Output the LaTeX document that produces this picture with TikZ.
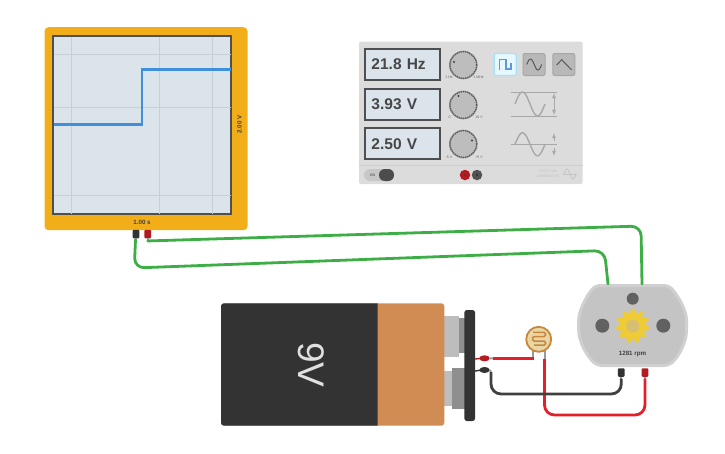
\documentclass[tikz,border=0pt]{standalone}
\usepackage{fontspec}
\usetikzlibrary{shapes.geometric}
\setmainfont{Liberation Sans}
\definecolor{scope}{HTML}{F2AE18}
\definecolor{lcd}{HTML}{DAE4EA}
\definecolor{lcdframe}{HTML}{4D4F50}
\definecolor{grid}{HTML}{C6D0D6}
\definecolor{trace}{HTML}{3F90DB}
\definecolor{panel}{HTML}{DCDCDC}
\definecolor{panelline}{HTML}{CFCFCF}
\definecolor{knob}{HTML}{BDBDBD}
\definecolor{darkpart}{HTML}{333333}
\definecolor{copper}{HTML}{D08C52}
\definecolor{stud}{HTML}{BDBDBD}
\definecolor{studdark}{HTML}{8F8F8F}
\definecolor{wiregreen}{HTML}{3DAE45}
\definecolor{wirered}{HTML}{E3202A}
\definecolor{wireblack}{HTML}{404040}
\definecolor{termred}{HTML}{B31B20}
\definecolor{motorbody}{HTML}{C4C4C4}
\definecolor{motorrim}{HTML}{D0D0D0}
\definecolor{gear}{HTML}{EFCB36}
\definecolor{gearhub}{HTML}{D6BE72}
\definecolor{ldr}{HTML}{C9873C}
\definecolor{ldrin}{HTML}{E8D6A4}
\definecolor{iconline}{HTML}{A8A8A8}
\definecolor{faint}{HTML}{C4C4C4}
\tikzset{
  wire/.style={line width=2.8pt,rounded corners=10pt,line cap=round},
  greenwire/.style={wire,draw=wiregreen},
  redwire/.style={wire,draw=wirered},
  blackwire/.style={wire,draw=wireblack},
  lead/.style={line width=2pt,draw=gray!80},
  readout/.style={draw=lcdframe,fill=lcd,line width=2.4pt,minimum width=75pt,minimum height=31pt,inner sep=0pt,font=\bfseries\fontsize{15.5}{17}\selectfont,text=darkpart!90,align=left,text width=62.5pt},
  knobc/.style={circle,fill=knob,draw=black!45,line width=1.1pt,minimum size=27.5pt,inner sep=0pt},
  knobdot/.style={circle,fill=black!75,inner sep=0pt,minimum size=2.4pt},
  mini/.style={font=\fontsize{3.6}{4}\selectfont,text=black!60,inner sep=0pt},
  wavebtn/.style={draw=black!35,fill=black!28,rounded corners=2pt,line width=1pt,minimum width=22pt,minimum height=22pt,inner sep=0pt},
  hole/.style={circle,fill=black!62,inner sep=0pt},
  plug/.style={rounded corners=1pt,inner sep=0pt,minimum width=6.8pt,minimum height=8.5pt},
}
\begin{document}
\begin{tikzpicture}[x=1pt,y=-1pt]
\useasboundingbox (0,0) rectangle (725,453);
% oscilloscope
\node[fill=scope,rounded corners=4pt,minimum width=203pt,minimum height=203pt,inner sep=0pt] (scopebody) at (146,128.7) {};
\node[fill=lcd,draw=lcdframe,line width=2.4pt,minimum width=178pt,minimum height=178pt,inner sep=0pt] (screen) at (142,125) {};
\draw[grid,line width=.8pt] (71.7,36.5)--(71.7,213.5) (159.3,36.5)--(159.3,213.5) (212.3,36.5)--(212.3,213.5)
  (53.5,54.3)--(230.5,54.3) (53.5,107.7)--(230.5,107.7) (53.5,195)--(230.5,195);
\draw[trace,line width=2.6pt] (53.5,124.7)--(142,124.7)--(142,69.7)--(230.5,69.7);
\node[font=\bfseries\fontsize{6.2}{7}\selectfont,text=black!75,inner sep=0pt] (timelabel) at (142,222) {1.00 s};
\node[font=\bfseries\fontsize{6.2}{7}\selectfont,text=black!75,inner sep=0pt,rotate=90] (voltlabel) at (239.5,124.5) {2.00 V};
\node[plug,fill=darkpart] (scopeblack) at (136,234) {};
\node[plug,fill=termred] (scopered) at (147.7,234) {};
\draw[lead] (scopeblack.south)--++(0,2) (scopered.south)--++(0,2);
% function generator
\node[fill=panel,rounded corners=2pt,minimum width=223.5pt,minimum height=142.5pt,inner sep=0pt] (fg) at (470.8,112.8) {};
\draw[panelline,line width=.8pt] (359,165)--(582.5,165);
\node[readout] (freq) at (402.7,64.5) {21.8 Hz};
\node[readout] (amp) at (402.7,104.5) {3.93 V};
\node[readout] (offs) at (402.7,143.7) {2.50 V};
\node[knobc] (k1) at (463.3,65) {};
\node[knobc] (k2) at (463.3,105) {};
\node[knobc] (k3) at (463.3,144) {};
\foreach \k in {k1,k2,k3}
  \draw[black!65,line width=1.2pt,densely dotted] (\k) circle (13.2);
\node[knobdot] at (454,62) {};
\node[knobdot] at (458.5,96) {};
\node[knobdot] at (472,140.5) {};
\node[mini] at (449,77.5) {1 Hz};
\node[mini] at (478.5,77.5) {1 MHz};
\node[mini] at (449.5,117.5) {0};
\node[mini] at (479,117.5) {10 V};
\node[mini] at (449,157) {-5 V};
\node[mini] at (479,157) {+5 V};
\node[draw=cyan!35,fill=white!90!cyan,rounded corners=2pt,line width=1.2pt,minimum width=22pt,minimum height=22pt,inner sep=0pt] (bsq) at (505.3,64.5) {};
\draw[cyan!55!blue!65,line width=1.2pt] (499.5,70)--(499.5,59.5)--(506,59.5)--(506,69)--(511,69)--(511,63);
\node[wavebtn] (bsin) at (534,64.5) {};
\draw[black!65,line width=1pt] plot[domain=0:360,samples=40] ({526.7+\x/24},{64.5-5.5*sin(\x)});
\node[wavebtn] (btri) at (563.8,64.5) {};
\draw[black!65,line width=1pt] (556.7,65)--(561.7,59.7)--(571.7,70);
% amplitude icon
\draw[iconline,line width=.8pt] (510.7,92.3)--(557.3,92.3) (510.7,116)--(557.3,116);
\draw[iconline,line width=1.4pt] plot[domain=0:360,samples=40] ({515+\x/12},{104-12*sin(\x)});
\draw[iconline,line width=.8pt,<->,>=latex] (554,93)--(554,115);
% offset icon
\draw[iconline,line width=.8pt] (510.7,144.3)--(557.3,144.3);
\draw[iconline,line width=1.4pt] plot[domain=0:360,samples=40] ({515+\x/12},{144.3-11.5*sin(\x)});
\draw[iconline,line width=.8pt,->,>=latex] (554,141)--(554,133);
\draw[iconline,line width=.8pt,->,>=latex] (554,148)--(554,156);
% switch and terminals
\node[fill=black!22,rounded corners=6pt,minimum width=30pt,minimum height=12pt,inner sep=0pt] (sw) at (379,175) {};
\node[fill=black!70,rounded corners=5.8pt,minimum width=15pt,minimum height=12pt,inner sep=0pt] (swknob) at (386.5,175) {};
\node[mini,font=\bfseries\fontsize{3.6}{4}\selectfont] at (372.5,175) {ON};
\node[circle,fill=termred,minimum size=10.5pt,inner sep=0pt] (fgred) at (465,175) {};
\node[circle,fill=black!68,minimum size=10.5pt,inner sep=0pt] (fgblack) at (477,175) {};
\node[circle,fill=black!75,minimum size=2pt,inner sep=0pt] at (465,175) {};
\node[circle,fill=black!85,minimum size=2pt,inner sep=0pt] at (477,175) {};
\node[font=\fontsize{3.6}{4.6}\selectfont,text=faint,align=center,inner sep=0pt] at (548,174) {FUNCTION\\GENERATOR};
\draw[faint,line width=.8pt] (563,174)--(577,174);
\draw[faint,line width=.8pt] plot[domain=0:360,samples=30] ({564+\x/30},{174-5*sin(\x)});
% battery
\fill[stud] (444,315.7) rectangle (459,356.7);
\fill[studdark] (459,318) rectangle (465,353);
\fill[stud] (444,371) rectangle (452,406);
\fill[studdark] (452,368) rectangle (465,409);
\fill[copper,rounded corners=3pt] (221,303.3) rectangle (444.3,425.7);
\begin{scope}
  \clip (215,295) rectangle (377.7,430);
  \fill[darkpart,rounded corners=3pt] (221,303.3) rectangle (444.3,425.7);
\end{scope}
\node[font=\fontsize{37}{38}\selectfont,text=black!12,rotate=-90,inner sep=0pt] (ninev) at (311,365) {9V};
\node[fill=darkpart,rounded corners=2.5pt,minimum width=10.7pt,minimum height=111pt,inner sep=0pt] (plate) at (469.7,365.5) {};
% LDR
\draw[lead] (532.7,349)--(532.7,360) (544.5,349)--(544.5,360);
\node[circle,fill=ldrin,draw=ldr,line width=1.8pt,minimum size=25pt,inner sep=0pt] (ldrc) at (538.7,339.3) {};
\draw[ldr,line width=1.5pt,rounded corners=1.5pt] (533,332.3)--(545.5,332.3)--(545.5,336.5)--(532.5,336.5)--(532.5,341)--(545.5,341)--(545.5,345.2)--(534,345.2);
% motor
\path[fill=motorbody,draw=motorrim,line width=3pt,line join=round,rounded corners=5pt] (632,285.5)--(669,285.5)
 .. controls (679,297) and (686.5,311) .. (686.5,325) .. controls (686.5,342) and (679,356) .. (669,365.5)
 --(597,365.5) .. controls (587,356) and (578.7,342) .. (578.7,325) .. controls (578.7,311) and (586,297) .. (595,285.5)--cycle;
\coordinate (motortl) at (608,284);
\coordinate (motortr) at (642,284);
\node[hole,minimum size=12pt] (h1) at (632.7,298.7) {};
\node[hole,minimum size=14pt] (h2) at (602.3,325.7) {};
\node[hole,minimum size=14pt] (h3) at (663.3,325.7) {};
\fill[gear] plot[domain=0:360,samples=111] ({632.7+(15+2.6*cos(11*\x))*sin(\x)},{326-(15+2.6*cos(11*\x))*cos(\x)}) -- cycle;
\node[circle,fill=gearhub,minimum size=13pt,inner sep=0pt] (hub) at (632.7,326) {};
\node[font=\bfseries\fontsize{6.2}{7}\selectfont,text=black!75,inner sep=0pt] (rpm) at (632.5,353.5) {1281 rpm};
\node[plug,fill=darkpart] (motorblack) at (621.3,372.5) {};
\node[plug,fill=termred] (motorred) at (645,372.5) {};
\draw[lead] (motorblack.south)--++(0,2.5) (motorred.south)--++(0,2.5);
% clips
\coordinate (clipredend) at (493,358.3);
\coordinate (clipblackend) at (491,372);
\draw[termred,line width=1.4pt] (475,359)--(482,358.3);
\draw[darkpart,line width=1.4pt] (475,371)--(482,370);
\node[ellipse,fill=termred,minimum width=10.5pt,minimum height=6pt,inner sep=0pt] (clipred) at (484.5,358.3) {};
\node[ellipse,fill=darkpart,minimum width=10.5pt,minimum height=6pt,inner sep=0pt] (clipblack) at (484.5,370) {};
\draw[lead] (clipred.east)--(clipredend) (clipblack.east)--(clipblackend);
% wires
\draw[greenwire] (scopered.south)++(0,2.5) -- (641,226) -- (642,284);
\draw[greenwire] (scopeblack.south)++(-.5,1) -- (134.3,268) -- (604.5,250.5) -- (608,284);
\draw[redwire,rounded corners=0pt,line cap=butt] (clipredend) -- (533.5,358.3);
\draw[redwire,line cap=butt] (544.5,359) -- (544.5,415) -- (645,415) -- (645,378.5);
\draw[blackwire,line cap=butt] (491,372) -- (491,394) -- (621.3,394) -- (621.3,378.5);
\end{tikzpicture}
\end{document}
